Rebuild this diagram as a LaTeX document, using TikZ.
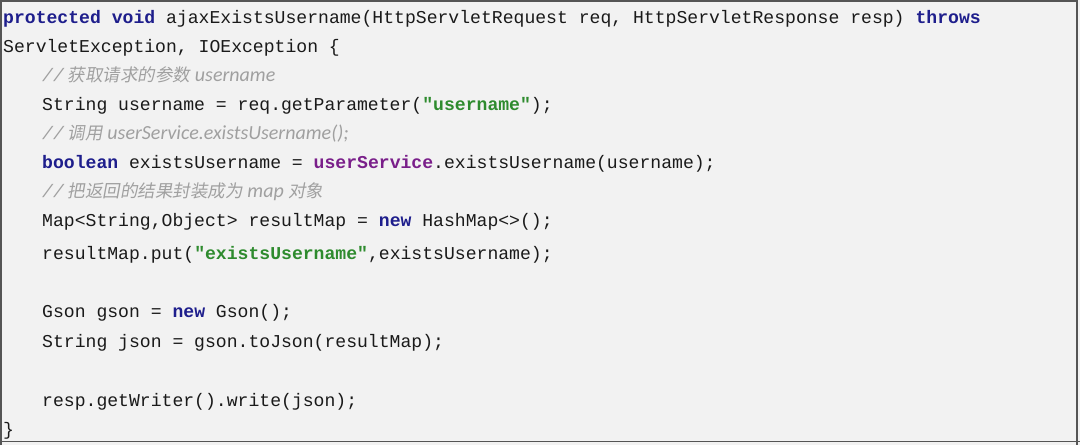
\documentclass[tikz,border=0pt]{standalone}
\usepackage{fontspec}
\setmonofont{Liberation Mono}
\newfontfamily\cjk[FakeSlant=0.18]{Noto Sans CJK SC}
\newfontfamily\cmlat{Carlito}
\definecolor{bg}{HTML}{F2F2F2}
\definecolor{kw}{HTML}{1E1E8C}
\definecolor{strg}{HTML}{2E8B2E}
\definecolor{fld}{HTML}{7A1F8A}
\definecolor{cmt}{HTML}{A0A0A0}
\definecolor{frm}{HTML}{555555}
\definecolor{txt}{HTML}{1A1A1A}
\newcommand\kwd[1]{\textcolor{kw}{\bfseries #1}}
\newcommand\str[1]{\textcolor{strg}{\bfseries #1}}
\newcommand\fldd[1]{\textcolor{fld}{\bfseries #1}}
\newcommand\cmtt[2]{\textcolor{cmt}{\ttfamily\itshape //\hspace{4pt}}\textcolor{cmt}{\fontsize{17.5}{17.5}\selectfont\cjk #1\cmlat\itshape\fontsize{20}{20}\selectfont #2}}
\begin{document}
\begin{tikzpicture}[x=1pt,y=-1pt,
  ln/.style={anchor=base west,inner sep=0pt,font=\ttfamily\fontsize{18.1}{20}\selectfont,text=txt}]
\useasboundingbox (0,0) rectangle (1080,445);
\fill[bg] (0,0) rectangle (1080,445);
\draw[frm,line width=1.5pt] (1,445) -- (1,1) -- (1077,1) -- (1077,445);
\draw[frm,line width=1pt] (0,441.5) -- (1080,441.5);
\node[ln] (l1) at (3,23) {\kwd{protected} \kwd{void} ajaxExistsUsername(HttpServletRequest req, HttpServletResponse resp) \kwd{throws}};
\node[ln] (l2) at (3,52) {ServletException, IOException \{};
\node[ln] (l3) at (42,81) {\cmtt{获取请求的参数}{ username}};
\node[ln] (l4) at (42,110) {String username = req.getParameter(\str{"username"});};
\node[ln] (l5) at (42,139) {\cmtt{调用}{ userService.existsUsername();}};
\node[ln] (l6) at (42,168) {\kwd{boolean} existsUsername = \fldd{userService}.existsUsername(username);};
\node[ln] (l7) at (42,197) {\cmtt{把返回的结果封装成为}{ map }\textcolor{cmt}{\fontsize{17.5}{17.5}\selectfont\cjk 对象}};
\node[ln] (l8) at (42,226) {Map<String,Object> resultMap = \kwd{new} HashMap<>();};
\node[ln] (l9) at (42,259) {resultMap.put(\str{"existsUsername"},existsUsername);};
\node[ln] (l10) at (42,317) {Gson gson = \kwd{new} Gson();};
\node[ln] (l11) at (42,347) {String json = gson.toJson(resultMap);};
\node[ln] (l12) at (42,406) {resp.getWriter().write(json);};
\node[ln] (l13) at (3,435) {\}};
\end{tikzpicture}
\end{document}
